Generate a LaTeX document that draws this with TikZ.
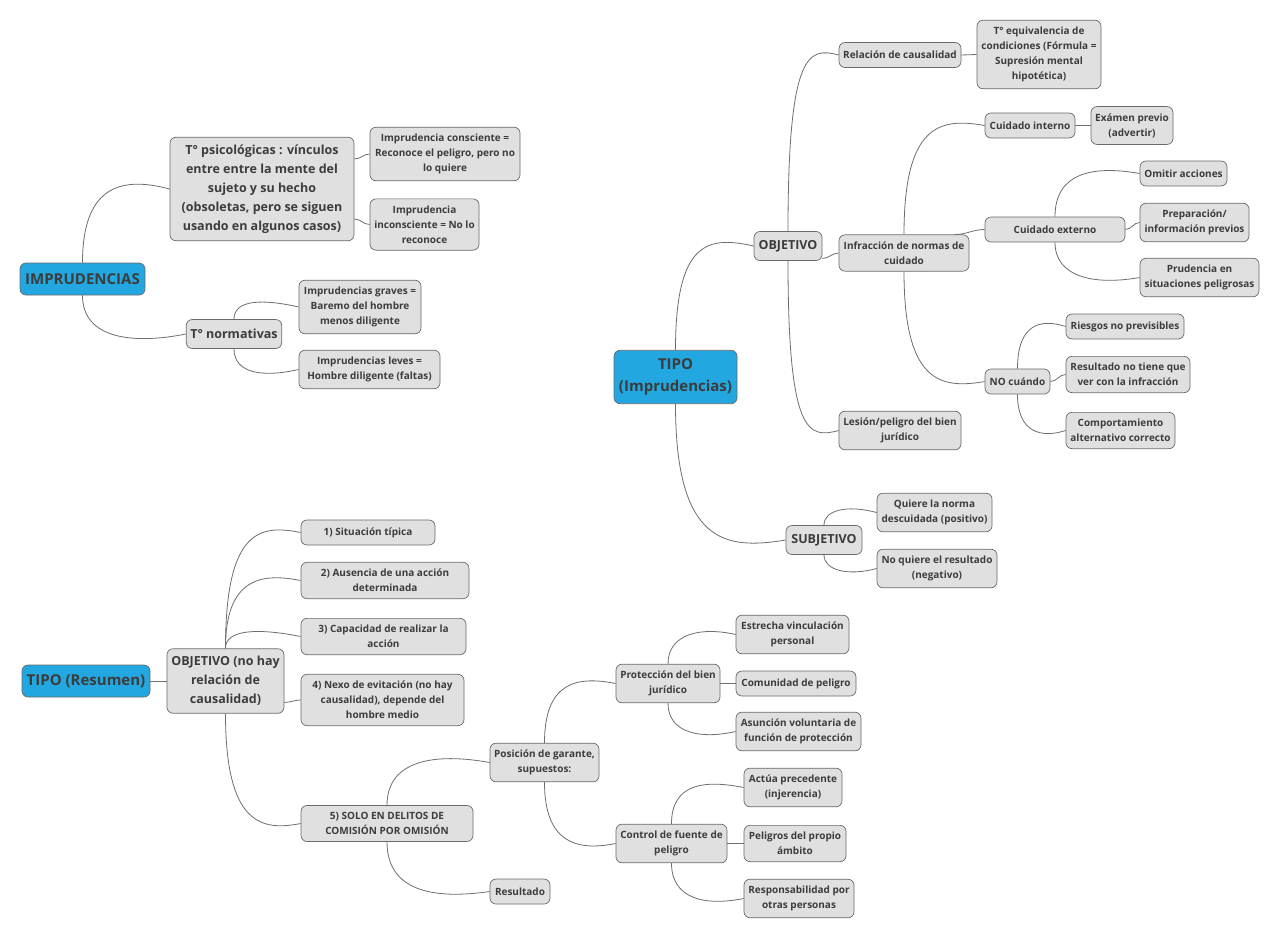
\documentclass[tikz,border=0pt]{standalone}
\usepackage{fontspec}
\setmainfont{Open Sans}
\usepackage{tikz}
\definecolor{xblue}{HTML}{22A7E0}
\definecolor{xfill}{HTML}{E0E0E0}
\definecolor{xedge}{HTML}{6A6A6A}
\definecolor{xtext}{HTML}{3C3C3C}
\definecolor{xline}{HTML}{6E6E6E}
\tikzset{
	topic/.style={rectangle, draw=xedge, line width=0.7pt, fill=xfill, rounded corners=6pt, align=center, text=xtext, inner xsep=4pt},
	leaf/.style={topic, font=\fontsize{10}{15}\selectfont\bfseries, inner ysep=6.8pt, minimum height=25pt},
	main/.style={topic, font=\fontsize{12.5}{19}\selectfont\bfseries, inner ysep=7.5pt, minimum height=29pt},
	root/.style={topic, fill=xblue, font=\fontsize{15}{22}\selectfont\bfseries, inner ysep=8.5pt, minimum height=32pt},
	branch/.style={draw=xline, line width=0.8pt}
}

\begin{document}
\begin{tikzpicture}[x=1pt, y=-1pt]
        \fill[white] (0,0) rectangle (1280,940);

        \node[root, minimum width=125] (imp) at (82.5,279) {IMPRUDENCIAS};
        \node[main, minimum width=184] (tpsic) at (262,189) {T° psicológicas : vínculos\\entre entre la mente del\\sujeto y su hecho\\(obsoletas, pero se siguen\\usando en algunos casos)};
        \node[leaf, minimum width=150] (iconsc) at (445,154) {Imprudencia consciente =\\Reconoce el peligro, pero no\\lo quiere};
        \node[leaf, minimum width=109] (iincon) at (424.5,224.5) {Imprudencia\\inconsciente = No lo\\reconoce};
        \node[main, minimum width=94] (tnorm) at (234,334) {T° normativas};
        \node[leaf, minimum width=122] (igraves) at (360,307) {Imprudencias graves =\\Baremo del hombre\\menos diligente};
        \node[leaf, minimum width=141] (ileves) at (369.5,369.5) {Imprudencias leves =\\Hombre diligente (faltas)};

        \node[root, minimum width=123] (tipo) at (675.5,377) {TIPO\\(Imprudencias)};
        \node[main, minimum width=68] (obj) at (788,246) {OBJETIVO};
        \node[leaf, minimum width=122] (rel) at (900,55) {Relación de causalidad};
        \node[leaf, minimum width=124] (teq) at (1039,54.5) {T° equivalencia de\\condiciones (Fórmula =\\Supresión mental\\hipotética)};
        \node[leaf, minimum width=130] (infr) at (904,253) {Infracción de normas de\\cuidado};
        \node[leaf, minimum width=90] (cint) at (1030,125.5) {Cuidado interno};
        \node[leaf, minimum width=82] (exam) at (1132,125.5) {Exámen previo\\(advertir)};
        \node[leaf, minimum width=140] (cext) at (1055,229.5) {Cuidado externo};
        \node[leaf, minimum width=87] (omit) at (1183.5,173.5) {Omitir acciones};
        \node[leaf, minimum width=109] (prep) at (1194.5,222.5) {Preparación/\\información previos};
        \node[leaf, minimum width=119] (prud) at (1199.5,277.5) {Prudencia en\\situaciones peligrosas};
        \node[leaf, minimum width=65] (nocu) at (1017.5,381.5) {NO cuándo};
        \node[leaf, minimum width=118] (ries) at (1125,326.5) {Riesgos no previsibles};
        \node[leaf, minimum width=124] (resno) at (1128,374.5) {Resultado no tiene que\\ver con la infracción};
        \node[leaf, minimum width=109] (comp) at (1120.5,430.5) {Comportamiento\\alternativo correcto};
        \node[leaf, minimum width=122] (lesion) at (900,430.5) {Lesión/peligro del bien\\jurídico};
        \node[main, minimum width=76] (subj) at (824,540) {SUBJETIVO};
        \node[leaf, minimum width=115] (quiere) at (934.5,512.5) {Quiere la norma\\descuidada (positivo)};
        \node[leaf, minimum width=120] (noquiere) at (937,568.5) {No quiere el resultado\\(negativo)};

        \node[root, minimum width=128] (resumen) at (86,681) {TIPO (Resumen)};
        \node[main, minimum width=117] (robj) at (225.5,681) {OBJETIVO (no hay\\relación de\\causalidad)};
        \node[leaf, minimum width=134] (s1) at (368,532.5) {1) Situación típica};
        \node[leaf, minimum width=168] (s2) at (385,580.5) {2) Ausencia de una acción\\determinada};
        \node[leaf, minimum width=165] (s3) at (383.5,636.5) {3) Capacidad de realizar la\\acción};
        \node[leaf, minimum width=163] (s4) at (382.5,700) {4) Nexo de evitación (no hay\\causalidad), depende del\\hombre medio};
        \node[leaf, minimum width=172] (s5) at (387,823.5) {5) SOLO EN DELITOS DE\\COMISIÓN POR OMISIÓN};
        \node[leaf, minimum width=109] (posg) at (544.5,762.5) {Posición de garante,\\supuestos:};
        \node[leaf, minimum width=60] (resul) at (520,891.5) {Resultado};
        \node[leaf, minimum width=104] (prot) at (668,683.5) {Protección del bien\\jurídico};
        \node[leaf, minimum width=113] (estr) at (792.5,634.5) {Estrecha vinculación\\personal};
        \node[leaf, minimum width=120] (comu) at (796,683.5) {Comunidad de peligro};
        \node[leaf, minimum width=125] (asun) at (798.5,731.5) {Asunción voluntaria de\\función de protección};
        \node[leaf, minimum width=111] (ctrl) at (671.5,843.5) {Control de fuente de\\peligro};
        \node[leaf, minimum width=98] (actu) at (793,787.5) {Actúa precedente\\(injerencia)};
        \node[leaf, minimum width=102] (pelig) at (795,843.5) {Peligros del propio\\ámbito};
        \node[leaf, minimum width=110] (resp) at (799,898.5) {Responsabilidad por\\otras personas};

        \draw[branch] (imp.north) .. controls +(0,-80) and +(-45,-12) .. (tpsic.west);
        \draw[branch] (imp.south) .. controls +(0,45) and +(-50,10) .. (tnorm.west);
        \draw[branch] (tpsic.18) to[out=0, in=180] (iconsc.west);
        \draw[branch] (tpsic.-18) to[out=0, in=180] (iincon.west);
        \draw[branch] (tnorm.north) .. controls +(0,-20) and +(-35,-8) .. (igraves.west);
        \draw[branch] (tnorm.south) .. controls +(0,25) and +(-35,8) .. (ileves.west);

        \draw[branch] (tipo.north) .. controls +(0,-110) and +(-45,-10) .. (obj.west);
        \draw[branch] (tipo.south) .. controls +(0,140) and +(-60,10) .. (subj.west);
        \draw[branch] (obj.north) .. controls +(0,-180) and +(-30,-8) .. (rel.west);
        \draw[branch] (obj.-20) to[out=0, in=180] (infr.west);
        \draw[branch] (obj.south) .. controls +(0,175) and +(-30,8) .. (lesion.west);
        \draw[branch] (rel.east) -- (teq.west);
        \draw[branch] (infr.north) .. controls +(0,-110) and +(-45,-8) .. (cint.west);
        \draw[branch] (infr.20) to[out=0, in=180] (cext.west);
        \draw[branch] (infr.south) .. controls +(0,110) and +(-45,8) .. (nocu.west);
        \draw[branch] (cint.east) -- (exam.west);
        \draw[branch] (cext.north) .. controls +(0,-45) and +(-45,-8) .. (omit.west);
        \draw[branch] (cext.east) to[out=0, in=180] (prep.west);
        \draw[branch] (cext.south) .. controls +(0,35) and +(-45,8) .. (prud.west);
        \draw[branch] (nocu.north) .. controls +(0,-45) and +(-25,-8) .. (ries.west);
        \draw[branch] (nocu.east) to[out=0, in=180] (resno.west);
        \draw[branch] (nocu.south) .. controls +(0,38) and +(-25,8) .. (comp.west);
        \draw[branch] (subj.north) .. controls +(0,-15) and +(-30,-8) .. (quiere.west);
        \draw[branch] (subj.south) .. controls +(0,15) and +(-30,8) .. (noquiere.west);

        \draw[branch] (resumen.east) -- (robj.west);
        \draw[branch] (robj.north) .. controls +(0,-120) and +(-40,-8) .. (s1.west);
        \draw[branch] (robj.north) .. controls +(0,-70) and +(-40,-8) .. (s2.west);
        \draw[branch] (robj.north) .. controls +(0,-20) and +(-40,-8) .. (s3.west);
        \draw[branch] (robj.-20) to[out=0, in=180] (s4.west);
        \draw[branch] (robj.south) .. controls +(0,110) and +(-40,8) .. (s5.west);
        \draw[branch] (s5.north) .. controls +(0,-45) and +(-55,-10) .. (posg.west);
        \draw[branch] (s5.south) .. controls +(0,50) and +(-55,8) .. (resul.west);
        \draw[branch] (posg.north) .. controls +(0,-60) and +(-40,-8) .. (prot.west);
        \draw[branch] (posg.south) .. controls +(0,60) and +(-40,8) .. (ctrl.west);
        \draw[branch] (prot.north) .. controls +(0,-30) and +(-35,-8) .. (estr.west);
        \draw[branch] (prot.east) -- (comu.west);
        \draw[branch] (prot.south) .. controls +(0,30) and +(-35,8) .. (asun.west);
        \draw[branch] (ctrl.north) .. controls +(0,-40) and +(-40,-8) .. (actu.west);
        \draw[branch] (ctrl.east) -- (pelig.west);
        \draw[branch] (ctrl.south) .. controls +(0,35) and +(-40,8) .. (resp.west);
\end{tikzpicture}
\end{document}
